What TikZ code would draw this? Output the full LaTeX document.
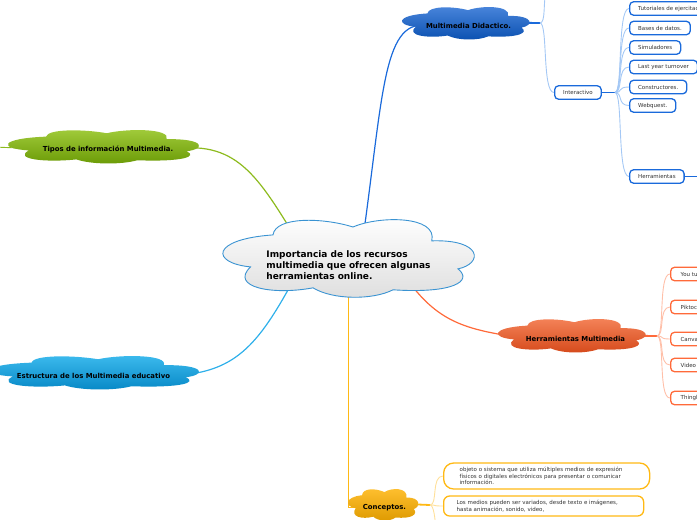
\documentclass[tikz,border=0pt]{standalone}
\usepackage{fontspec}
\setmainfont{DejaVu Sans}
\usetikzlibrary{backgrounds}

\definecolor{rootline}{HTML}{3A93D2}
\definecolor{bluemain}{HTML}{1A6ADB}
\definecolor{bluethin}{HTML}{A4C8F5}
\definecolor{orangemain}{HTML}{FF6A3A}
\definecolor{orangethin}{HTML}{FFBFA8}
\definecolor{yellowmain}{HTML}{FFB914}
\definecolor{yellowthin}{HTML}{FFE09A}
\definecolor{greenmain}{HTML}{8DBB1E}
\definecolor{skymain}{HTML}{2FB0EA}
\definecolor{blueA}{HTML}{4A86DC}
\definecolor{blueB}{HTML}{0A50B0}
\definecolor{greenA}{HTML}{A2CC3C}
\definecolor{greenB}{HTML}{6A9A05}
\definecolor{skyA}{HTML}{3DBBEE}
\definecolor{skyB}{HTML}{0688C6}
\definecolor{orangeA}{HTML}{F5845A}
\definecolor{orangeB}{HTML}{D5491A}
\definecolor{yellowA}{HTML}{FFC030}
\definecolor{yellowB}{HTML}{DE9A00}

\newcommand{\cloudblob}[5]{
    \path[#1,shift={(#2,#3)},x=#4pt,y=-#5pt] (-0.6,-0.61)
        .. controls (-0.58,-1.08) and (-0.2,-1.05) .. (0.04,-0.81)
        .. controls (0.25,-1.1) and (0.72,-1.1) .. (0.67,-0.46)
        .. controls (1.08,-0.5) and (1.08,0.12) .. (0.88,0.25)
        .. controls (1.0,0.55) and (0.85,0.88) .. (0.36,0.78)
        .. controls (0.2,1.04) and (-0.12,1.04) .. (-0.28,0.73)
        .. controls (-0.6,0.92) and (-0.95,0.72) .. (-0.78,0.2)
        .. controls (-1.1,0.1) and (-1.1,-0.5) .. cycle;
}

\begin{document}
\begin{tikzpicture}[x=1pt,y=-1pt,
    title/.style = {inner sep=0pt,font=\fontsize{6.9}{8}\selectfont\bfseries},
    leaf/.style = {rectangle,rounded corners=4pt,line width=1.3pt,fill=white,anchor=west,minimum height=13.5pt,
        inner xsep=8.5pt,inner ysep=0pt,text=black!80,font=\fontsize{5.5}{6.7}\selectfont},
    long/.style = {leaf,draw=yellowmain,align=left,text width=174pt,rounded corners=#1},
    thin/.style = {line width=0.9pt},
    main/.style = {line width=1.8pt},
    link/.style = {line width=1.2pt}]
    \useasboundingbox (0,0) rectangle (697,520);
    \cloudblob{top color=white,bottom color=black!13,draw=rootline,line width=0.9pt}{348}{259}{125}{39.5}
    \cloudblob{top color=blueA,bottom color=blueB}{465.5}{23.5}{63.5}{16.5}
    \cloudblob{top color=greenA,bottom color=greenB}{103}{147}{95}{17}
    \cloudblob{top color=skyA,bottom color=skyB}{94}{373}{104}{17}
    \cloudblob{top color=orangeA,bottom color=orangeB}{571.5}{336}{73.5}{17}
    \cloudblob{top color=yellowA,bottom color=yellowB}{383}{505}{35}{16}
    \node[title,font=\fontsize{9}{11}\selectfont\bfseries,align=left] (root) at (348.5,265) {Importancia de los recursos\\multimedia que ofrecen algunas\\herramientas online.};
    \node[title] (didactico) at (468.5,25.5) {Multimedia Didactico.};
    \node[title] (tipos) at (108,149) {Tipos de información Multimedia.};
    \node[title] (estructura) at (93.5,375.5) {Estructura de los Multimedia educativo};
    \node[title] (herramientas) at (575.5,338.5) {Herramientas Multimedia};
    \node[title] (conceptos) at (384.5,507.5) {Conceptos.};
    \coordinate (bluehub) at (540,23);
    \coordinate (bluetop) at (546,-6);
    \coordinate (interhub) at (615,92.5);
    \coordinate (orangehub) at (657,336);
    \coordinate (yellowhub) at (430,505);
    \coordinate (yellowlow) at (436,528);
    \coordinate (tiposend) at (-6,147);
    \coordinate (toolsend) at (706,176.5);
    \node[leaf,draw=bluemain] (interactivo) at (554,92.5) {Interactivo};
    \foreach \i/\y [count=\j from 0] in {Tutoriales de ejercitación/8.5,Bases de datos./28,Simuladores/47.5,Last year turnover/67,Constructores./87,Webquest./105.5,Herramientas/176.5} \node[leaf,draw=bluemain] (inter\j) at (629,\y) {\i};
    \foreach \i/\y [count=\j from 0] in {You tube/274,Piktochart/307,Canva/339,Video/365,Thinglink/398} \node[leaf,draw=orangemain,inner xsep=10pt] (tool\j) at (670,\y) {\i};
    \node[long=10pt,inner xsep=16pt,minimum height=26pt] (concept0) at (443,476) {objeto o sistema que utiliza múltiples medios de expresión\\físicos o digitales electrónicos para presentar o comunicar\\información.};
    \node[long=6pt,inner xsep=13pt,minimum height=20pt] (concept1) at (443,506) {Los medios pueden ser variados, desde texto e imágenes,\\hasta animación, sonido, video,};
    \begin{scope}[on background layer]
        \draw[greenmain,link] (tipos.east) .. controls (240,140) and (260,180) .. (root.162);
        \draw[greenmain,thin] (tipos.west) -- (tiposend);
        \draw[bluemain,link] (root.49) .. controls (383,100) and (382,20) .. (didactico.west);
        \draw[skymain,link] (root.195) .. controls (258,345) and (235,374) .. (estructura.east);
        \draw[orangemain,link] (root.-14) .. controls (440,325) and (470,330) .. (herramientas.west);
        \draw[yellowmain,link] (root.south) |- (conceptos.west);
        \draw[bluemain,main] (didactico.north east) -- (bluehub);
        \draw[bluethin,thin] (bluehub) .. controls +(6,0) and +(-3,6) .. (bluetop);
        \draw[bluethin,thin] (bluehub) .. controls +(8,0) and +(-12,0) .. (interactivo.west);
        \draw[bluemain,main] (interactivo.east) -- (interhub);
        \foreach \j in {0,...,6} \draw[bluethin,thin] (interhub) .. controls +(8,0) and +(-12,0) .. (inter\j.west);
        \draw[bluemain,main] (inter6.east) -- (toolsend);
        \draw[orangemain,main] (herramientas.north east) -- (orangehub);
        \foreach \j in {0,...,4} \draw[orangethin,thin] (orangehub) .. controls +(8,0) and +(-12,0) .. (tool\j.west);
        \draw[yellowmain,main] (conceptos.north east) -- (yellowhub);
        \foreach \j in {0,1} \draw[yellowthin,thin] (yellowhub) .. controls +(8,0) and +(-12,0) .. (concept\j.west);
        \draw[yellowthin,thin] (yellowhub) .. controls +(4,0) and +(-1,-8) .. (yellowlow);
    \end{scope}
\end{tikzpicture}
\end{document}
